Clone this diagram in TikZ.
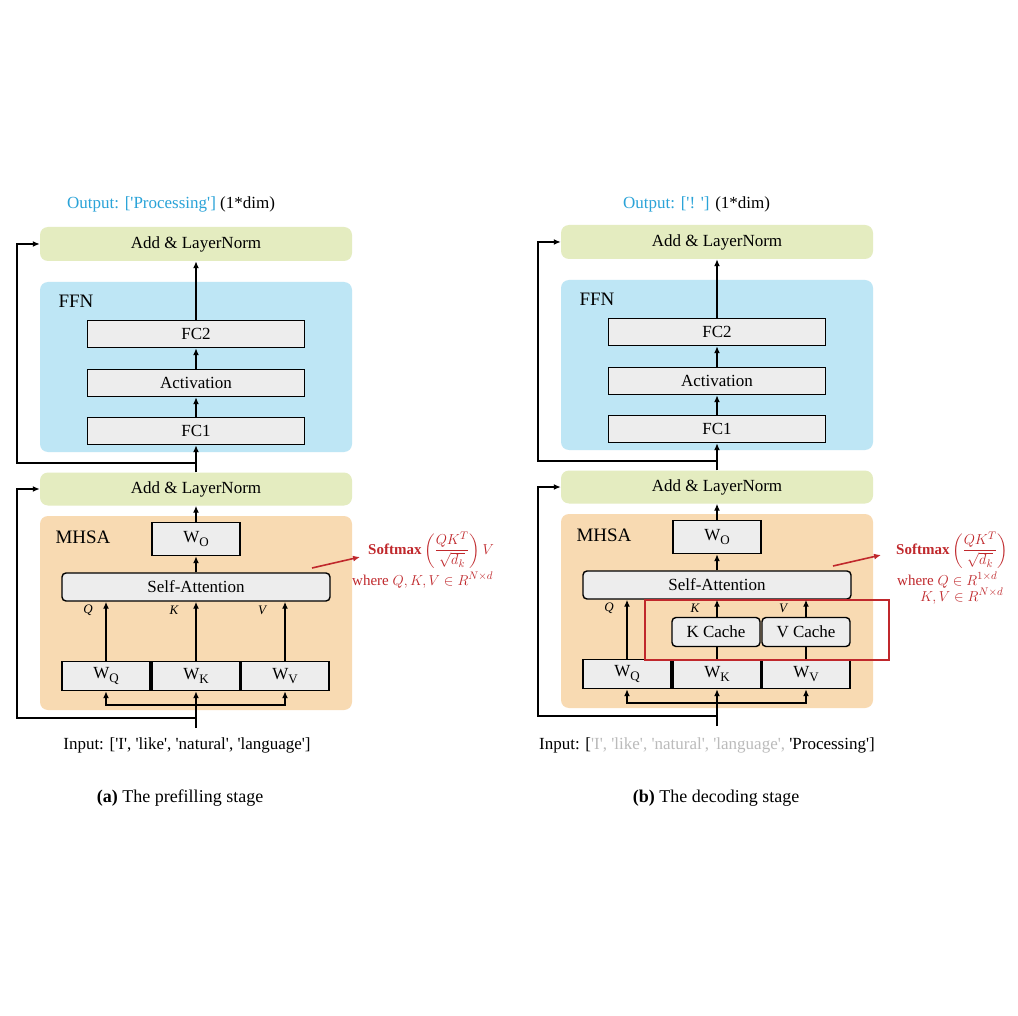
\documentclass[tikz,border=0pt]{standalone}
\usepackage{fontspec}
\usepackage{amsmath,bm}
\setmainfont{Liberation Serif}
\usetikzlibrary{arrows.meta}
\definecolor{lng}{HTML}{E4ECC0}
\definecolor{ffn}{HTML}{BEE6F5}
\definecolor{mhsa}{HTML}{F8DAB2}
\definecolor{box}{HTML}{EDEDED}
\definecolor{outc}{HTML}{2AA3D8}
\definecolor{redc}{HTML}{C0282C}
\definecolor{grayt}{HTML}{BBBBBB}
\newcommand\q{\textquotesingle}
\newcommand\Wsub[1]{W\raisebox{-0.45ex}{\fontsize{13}{13}\selectfont #1}}
\newcommand\mypanel[1]{%
 \node[bg,fill=lng,minimum width=312pt,minimum height=34pt] (#1ln1) at (196,244) {Add \& LayerNorm};
 \node[bg,fill=ffn,minimum width=312pt,minimum height=170pt] (#1ffn) at (196,367) {};
 \node[lbl,anchor=west] at (55,301) {FFN};
 \node[blk,minimum width=217pt,minimum height=27pt] (#1fc2) at (196,334) {FC2};
 \node[blk,minimum width=217pt,minimum height=27pt] (#1act) at (196,383) {Activation};
 \node[blk,minimum width=217pt,minimum height=27pt] (#1fc1) at (196,431) {FC1};
 \node[bg,fill=lng,minimum width=312pt,minimum height=33pt] (#1ln2) at (196,489) {Add \& LayerNorm};
 \node[bg,fill=mhsa,minimum width=312pt,minimum height=194pt] (#1mhsa) at (196,613) {};
 \node[lbl,anchor=west] at (52,537) {MHSA};
 \node[blk,minimum width=88pt,minimum height=33pt] (#1wo) at (196,539) {\Wsub{O}};
 \node[blk,rounded corners=4pt,minimum width=268pt,minimum height=28pt] (#1sa) at (196,587) {Self-Attention};
 \node[blk,minimum width=88pt,minimum height=29pt] (#1wq) at (106,676) {\Wsub{Q}};
 \node[blk,minimum width=88pt,minimum height=29pt] (#1wk) at (196,676) {\Wsub{K}};
 \node[blk,minimum width=88pt,minimum height=29pt] (#1wv) at (285,676) {\Wsub{V}};
 \node[qkv] at (88,610) {Q};
 \node[qkv] at (174,610) {K};
 \node[qkv] at (262,610) {V};
 \draw[arr] (#1fc1.north) -- (#1act.south);
 \draw[arr] (#1act.north) -- (#1fc2.south);
 \draw[arr] (#1fc2.north) -- (#1ln1.south);
 \draw[arr] (#1ln2.north) -- (#1fc1.south);
 \draw[arr] (#1wo.north) -- (#1ln2.south);
 \draw[arr] (#1sa.north) -- (#1wo.south);
 \draw[arr] (#1wq.north) -- (#1sa.south -| #1wq.north);
 \coordinate (#1in) at (196,728);
 \coordinate (#1j1) at (196,705);
 \draw[arr] (#1in) -- (#1wk.south);
 \draw[arr] (#1j1) -| (#1wq.south);
 \draw[arr] (#1j1) -| (#1wv.south);
 \coordinate (#1r1) at (196,718);
 \draw[arr] (#1r1) -- (17,718) |- (#1ln2.west);
 \coordinate (#1r2) at (196,463);
 \draw[arr] (#1r2) -- (17,463) |- (#1ln1.west);
 \coordinate (#1fa) at (312,568);
 \coordinate (#1fb) at (360,557);
 \draw[arr,redc,line width=1.6pt] (#1fa) -- (#1fb);
}
\begin{document}
\begin{tikzpicture}[x=1pt,y=-1pt,
 every node/.style={font=\fontsize{17}{20}\selectfont},
 bg/.style={rounded corners=8pt,draw=none,inner sep=0pt},
 blk/.style={draw=black,line width=1.4pt,fill=box,inner sep=0pt},
 lbl/.style={font=\fontsize{19}{22}\selectfont},
 qkv/.style={font=\fontsize{13}{15}\selectfont\itshape},
 red/.style={text=redc,inner sep=0pt,font=\fontsize{15}{17}\selectfont},
 plain/.style={inner sep=0pt},
 arr/.style={-{Latex[length=7pt,width=6pt]},line width=1.4pt}]
\useasboundingbox (0,0) rectangle (1018,1016);
\fill[white] (0,0) rectangle (1018,1016);
% panel a
\begin{scope}
 \mypanel{a}
 \draw[arr] (awk.north) -- (asa.south -| awk.north);
 \draw[arr] (awv.north) -- (asa.south -| awv.north);
 \node[plain,anchor=west] (aout) at (67,204) {\textcolor{outc}{Output: [\q Processing\q]} (1*dim)};
 \node[plain] (ainl) at (187,745) {Input: [\q I\q, \q like\q, \q natural\q, \q language\q]};
 \node[plain,font=\fontsize{18}{20}\selectfont] (acap) at (180,798) {\textbf{(a)} The prefilling stage};
 \node[red,anchor=west] (af1) at (368,550) {\textbf{Softmax}\,$\boldmath\displaystyle\left(\frac{QK^T}{\sqrt{d_k}}\right)V$};
 \node[red,anchor=west] (af2) at (352,580) {where $Q,K,V\in R^{N\times d}$};
\end{scope}
% panel b
\begin{scope}[shift={(521,-2)}]
 \mypanel{b}
 \node[draw=redc,line width=2pt,minimum width=244pt,minimum height=60pt,inner sep=0pt] (bred) at (246,632) {};
 \node[blk,rounded corners=4pt,minimum width=88pt,minimum height=29pt] (bkc) at (195,634) {K Cache};
 \node[blk,rounded corners=4pt,minimum width=88pt,minimum height=29pt] (bvc) at (285,634) {V Cache};
 \draw[line width=1.4pt] (bwk.north) -- (bkc.south -| bwk.north);
 \draw[line width=1.4pt] (bwv.north) -- (bvc.south -| bwv.north);
 \draw[arr] (bkc.north -| bwk.north) -- (bsa.south -| bwk.north);
 \draw[arr] (bvc.north -| bwv.north) -- (bsa.south -| bwv.north);
 \node[plain,anchor=west] (bout) at (102,206) {\textcolor{outc}{Output: [\q! \q]} (1*dim)};
 \node[plain] (binl) at (186,747) {Input: [\textcolor{grayt}{\q I\q, \q like\q, \q natural\q, \q language\q,} \q Processing\q]};
 \node[plain,font=\fontsize{18}{20}\selectfont] (bcap) at (195,800) {\textbf{(b)} The decoding stage};
 \node[red,anchor=west] (bf1) at (375,552) {\textbf{Softmax}\,$\boldmath\displaystyle\left(\frac{QK^T}{\sqrt{d_k}}\right)$};
 \node[red,anchor=west] (bf2) at (376,582) {where $Q\in R^{1\times d}$};
 \node[red,anchor=west] (bf3) at (399,598) {$K,V\in R^{N\times d}$};
\end{scope}
\end{tikzpicture}
\end{document}
